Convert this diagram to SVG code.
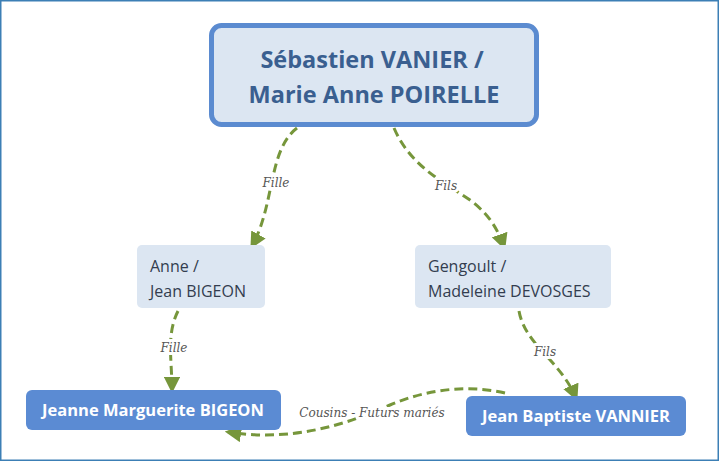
<svg xmlns="http://www.w3.org/2000/svg" width="720" height="462" viewBox="0 0 720 462">
<defs>
<style>
.conn{fill:none;stroke:#76963b;stroke-width:3;stroke-dasharray:9 5}
.lbl{font-family:"DejaVu Serif","Liberation Serif",serif;font-style:italic;font-size:12px;fill:#555555;stroke:#ffffff;stroke-width:6;paint-order:stroke;stroke-linejoin:round}
.mid{fill:#dce6f2}
.midt{font-family:"Open Sans","Noto Sans",sans-serif;font-size:16px;fill:#333d4f}
.bot{fill:#5b8bd3}
.bott{font-family:"Open Sans","Noto Sans",sans-serif;font-weight:bold;font-size:16.5px;fill:#ffffff;text-anchor:middle}
</style>
<marker id="ah" viewBox="0 0 10 10" refX="8" refY="5" markerWidth="5.5" markerHeight="5.5" orient="auto" markerUnits="strokeWidth">
<path d="M0,0 L10,5 L0,10 Z" fill="#76963b"/>
</marker>
</defs>
<rect x="0" y="0" width="720" height="462" fill="#ffffff"/>
<rect x="0.75" y="0.75" width="717.5" height="459.5" fill="none" stroke="#3c7fb5" stroke-width="1.5"/>
<g id="connectors">
<path class="conn" d="M297,128 C268,150 275,205 252,246" marker-end="url(#ah)"/>
<path class="conn" d="M394,128 C410,165 440,180 470,200 C490,215 498,230 504,247" marker-end="url(#ah)"/>
<path class="conn" d="M178,311 C166,335 172,360 172,390" marker-end="url(#ah)"/>
<path class="conn" d="M519,311 C525,345 560,360 576,398" marker-end="url(#ah)"/>
<path class="conn" d="M505,393 C470,385 430,388 390,405 C330,432 280,440 228,432" marker-end="url(#ah)"/>
</g>
<g id="labels">
<text class="lbl" x="276" y="187" text-anchor="middle">Fille</text>
<text class="lbl" x="446" y="190" text-anchor="middle">Fils</text>
<text class="lbl" x="174" y="352" text-anchor="middle">Fille</text>
<text class="lbl" x="545" y="356" text-anchor="middle">Fils</text>
<text class="lbl" x="372" y="417" text-anchor="middle">Cousins - Futurs mariés</text>
</g>
<g id="n-root">
<rect x="211.5" y="25.5" width="325" height="99" rx="10" fill="#dce6f2" stroke="#5b8bd0" stroke-width="5"/>
<text x="372" y="68" text-anchor="middle" font-family="Open Sans,Noto Sans,sans-serif" font-weight="bold" font-size="23.5" fill="#3a5f90">Sébastien VANIER /</text>
<text x="374" y="103" text-anchor="middle" font-family="Open Sans,Noto Sans,sans-serif" font-weight="bold" font-size="23.5" fill="#3a5f90">Marie Anne POIRELLE</text>
</g>
<g id="n-anne">
<rect class="mid" x="137" y="245" width="128" height="63" rx="5"/>
<text class="midt" x="150" y="272">Anne /</text>
<text class="midt" x="150" y="297">Jean BIGEON</text>
</g>
<g id="n-gengoult">
<rect class="mid" x="415" y="245" width="196" height="63" rx="5"/>
<text class="midt" x="428" y="272">Gengoult /</text>
<text class="midt" x="428" y="297">Madeleine DEVOSGES</text>
</g>
<g id="n-jeanne">
<rect class="bot" x="26" y="390" width="255" height="40" rx="6"/>
<text class="bott" x="153" y="416">Jeanne Marguerite BIGEON</text>
</g>
<g id="n-jeanbaptiste">
<rect class="bot" x="466" y="396" width="220" height="40" rx="6"/>
<text class="bott" x="576" y="422">Jean Baptiste VANNIER</text>
</g>
</svg>
